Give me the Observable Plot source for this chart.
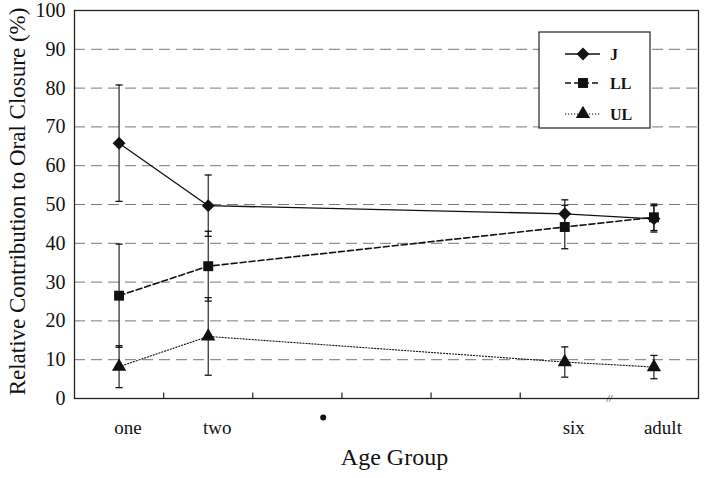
<!DOCTYPE html>
<html>
<head>
<meta charset="utf-8">
<script src="https://cdn.jsdelivr.net/npm/d3@7"></script>
<script src="https://cdn.jsdelivr.net/npm/@observablehq/plot@0.6"></script>
<style>
  html, body { margin: 0; padding: 0; background: #fff; }
  #chart svg { display: block; }
</style>
</head>
<body>
<div id="chart"></div>
<script>
// ---- data ----
const ageGroups = ["one", "two", "six", "adult"];
const groupSlots = [0.5, 1.5, 5.5, 6.5];   // slot on the broken age axis
const axisTicks = [1, 2, 3, 4, 5];
const axisBreak = [6];
const yTicks = [0, 10, 20, 30, 40, 50, 60, 70, 80, 90, 100];
const gridValues = [10, 20, 30, 40, 50, 60, 70, 80, 90];
const seriesNames = ["J", "LL", "UL"];
const jMean  = [65.8, 49.7, 47.6, 46.3];
const jErr   = [15.0, 7.9, 3.6, 3.4];
const llMean = [26.5, 34.1, 44.2, 46.7];
const llErr  = [13.3, 9.0, 5.6, 3.4];
const ulMean = [8.2, 16.0, 9.4, 8.1];
const ulErr  = [5.4, 10.0, 3.9, 3.0];
const strayDot = [2.79];
const yTitle = "Relative Contribution to Oral Closure (%)";
const xTitle = "Age Group";

// ---- tidy rows ----
const means = {J: jMean, LL: llMean, UL: ulMean};
const errs = {J: jErr, LL: llErr, UL: ulErr};
const rows = seriesNames.flatMap(s => ageGroups.map((g, i) => ({
  series: s, group: g, slot: groupSlots[i], mean: means[s][i], err: errs[s][i]
})));
const caps = rows.flatMap(d => [
  {slot: d.slot, y: d.mean - d.err},
  {slot: d.slot, y: d.mean + d.err}
]);
const bySeries = s => rows.filter(d => d.series === s);

const capSymbol = {
  draw(ctx, size) {
    const w = Math.sqrt(size) / 2;
    ctx.moveTo(-w, 0);
    ctx.lineTo(w, 0);
  }
};

const styles = {
  J:  {dash: null,      width: 1.3, symbol: "diamond2", r: 5.8},
  LL: {dash: "6,3",     width: 1.6, symbol: "square",   r: 5.6},
  UL: {dash: "1.2,1.8", width: 1.1, symbol: "triangle", r: 5.3}
};

const font = "Liberation Serif, Times New Roman, serif";

const chart = Plot.plot({
  width: 705,
  height: 478,
  marginLeft: 74,
  marginRight: 7,
  marginTop: 10,
  marginBottom: 80,
  style: {fontFamily: font, background: "#fff", color: "#111"},
  x: {domain: [0, 7], axis: null},
  y: {domain: [0, 100], axis: null},
  marks: [
    Plot.ruleY(gridValues, {stroke: "#777", strokeWidth: 1, strokeDasharray: "11,6"}),
    Plot.frame({stroke: "#222", strokeWidth: 1.3}),
    Plot.axisY({ticks: yTicks, tickSize: 0, tickPadding: 9, fontSize: 20, label: null, tickFormat: d => d}),
    Plot.ruleX(axisTicks, {x: d => d, y1: 0, y2: 1.4, stroke: "#222", strokeWidth: 1.2}),
    Plot.text(axisBreak, {x: d => d, y: 0, text: () => "//", fontSize: 10, fontStyle: "italic", fill: "#222"}),
    // error bars
    Plot.ruleX(rows, {x: "slot", y1: d => d.mean - d.err, y2: d => d.mean + d.err, stroke: "#111", strokeWidth: 1.1}),
    Plot.dot(caps, {x: "slot", y: "y", symbol: capSymbol, r: 4, stroke: "#111", strokeWidth: 1.3, fill: "none"}),
    // series lines and markers
    ...seriesNames.flatMap(s => [
      Plot.line(bySeries(s), {x: "slot", y: "mean", stroke: "#111", strokeWidth: styles[s].width, strokeDasharray: styles[s].dash}),
      Plot.dot(bySeries(s), {x: "slot", y: "mean", symbol: styles[s].symbol, r: styles[s].r, fill: "#111", stroke: "none"})
    ]),
    // category labels
    Plot.text(ageGroups, {x: (d, i) => groupSlots[i], frameAnchor: "bottom", dy: 35, dx: 9, text: d => d, fontSize: 19, fill: "#111"}),
    Plot.dot(strayDot, {x: d => d, frameAnchor: "bottom", dy: 19, r: 3, fill: "#111"}),
    // axis titles
    Plot.text([xTitle], {frameAnchor: "bottom", dy: 66, dx: 8, text: d => d, fontSize: 24, fill: "#111"}),
    Plot.text([yTitle], {frameAnchor: "left", textAnchor: "middle", dx: -57, dy: -3, rotate: -90, text: d => d, fontSize: 23, fill: "#111"})
  ]
});

// legend box (drawn inside the plot's svg)
const svg = d3.select(chart);
const lg = svg.append("g").attr("font-family", font).attr("text-anchor", "start");
lg.append("rect").attr("x", 539).attr("y", 32).attr("width", 111).attr("height", 96)
  .attr("fill", "#fff").attr("stroke", "#222").attr("stroke-width", 1.2);
const symbolTypes = {diamond2: d3.symbolDiamond2, square: d3.symbolSquare, triangle: d3.symbolTriangle};
const legendRows = [54, 83, 114];
seriesNames.forEach((s, i) => {
  const y = legendRows[i];
  const st = styles[s];
  lg.append("line").attr("x1", 565).attr("x2", 600).attr("y1", y).attr("y2", y)
    .attr("stroke", "#111").attr("stroke-width", st.width)
    .attr("stroke-dasharray", st.dash);
  lg.append("path").attr("transform", `translate(583,${y})`)
    .attr("d", d3.symbol(symbolTypes[st.symbol], Math.PI * st.r * st.r)())
    .attr("fill", "#111");
  lg.append("text").attr("x", 610).attr("y", y).attr("dy", "0.36em")
    .attr("text-anchor", "start")
    .attr("font-size", 16).attr("font-weight", "bold").attr("fill", "#111").text(s);
});

document.getElementById("chart").appendChild(chart);
</script>
</body>
</html>
